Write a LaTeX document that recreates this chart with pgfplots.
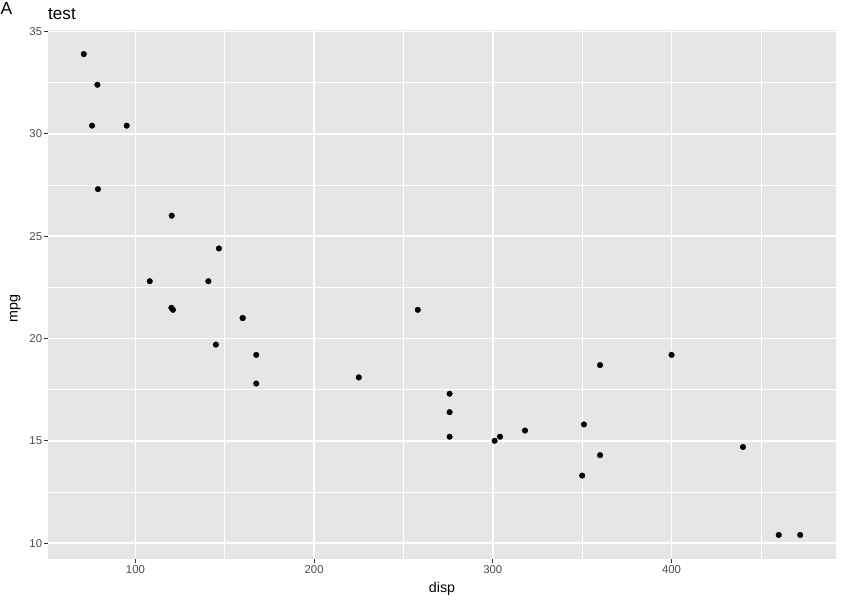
\documentclass[border=0pt]{standalone}
\usepackage{pgfplots}
\pgfplotsset{compat=1.18}
\usepackage{fontspec}
\setmainfont{Liberation Sans}
\definecolor{panelbg}{HTML}{E6E6E6}
\definecolor{ticklab}{HTML}{4D4D4D}
\definecolor{tickcol}{HTML}{333333}
\begin{document}
\begin{tikzpicture}
\useasboundingbox[fill=white] (0,0) rectangle (842bp,603bp);
\begin{axis}[
  at={(48bp,44bp)}, anchor=south west,
  scale only axis, width=788bp, height=529bp,
  xmin=51.055, xmax=492.045, ymin=9.225, ymax=35.075,
  xtick={100,200,300,400}, ytick={10,15,20,25,30,35},
  minor xtick={150,250,350,450}, minor ytick={12.5,17.5,22.5,27.5,32.5},
  grid=both,
  major grid style={white, line width=1.4bp},
  minor grid style={white, line width=0.7bp},
  axis background/.style={fill=panelbg},
  axis line style={draw=none},
  tick align=outside, major tick length=3.7bp, minor tick length=0pt,
  tick style={tickcol, line width=1bp},
  xtick pos=bottom, ytick pos=left,
  ticklabel style={font=\fontsize{11.4}{13}\selectfont, text=ticklab},
  /pgf/number format/assume math mode=true,
  xticklabel style={yshift=0bp, inner sep=2.5bp},
  yticklabel style={xshift=0bp, inner sep=2bp},
]
\addplot[only marks, mark=*, mark size=2.8bp, mark options={fill=black, draw=black}] coordinates {
(160,21.0) (160,21.0) (108,22.8) (258,21.4) (360,18.7) (225,18.1) (360,14.3)
(146.7,24.4) (140.8,22.8) (167.6,19.2) (167.6,17.8) (275.8,16.4) (275.8,17.3)
(275.8,15.2) (472,10.4) (460,10.4) (440,14.7) (78.7,32.4) (75.7,30.4) (71.1,33.9)
(120.1,21.5) (318,15.5) (304,15.2) (350,13.3) (400,19.2) (79,27.3) (120.3,26.0)
(95.1,30.4) (351,15.8) (145,19.7) (301,15.0) (121,21.4)
};
\end{axis}
\node[anchor=base west, inner sep=0pt, font=\fontsize{17.5}{20}\selectfont] at (0.5bp,588bp) {A};
\node[anchor=base west, inner sep=0pt, font=\fontsize{17.2}{20}\selectfont] at (48bp,583bp) {test};
\node[anchor=base, inner sep=0pt, font=\fontsize{14.3}{16}\selectfont] at (442bp,10.5bp) {disp};
\node[anchor=base, inner sep=0pt, rotate=90, font=\fontsize{14.3}{16}\selectfont] at (17.5bp,294.5bp) {mpg};
\end{tikzpicture}
\end{document}
